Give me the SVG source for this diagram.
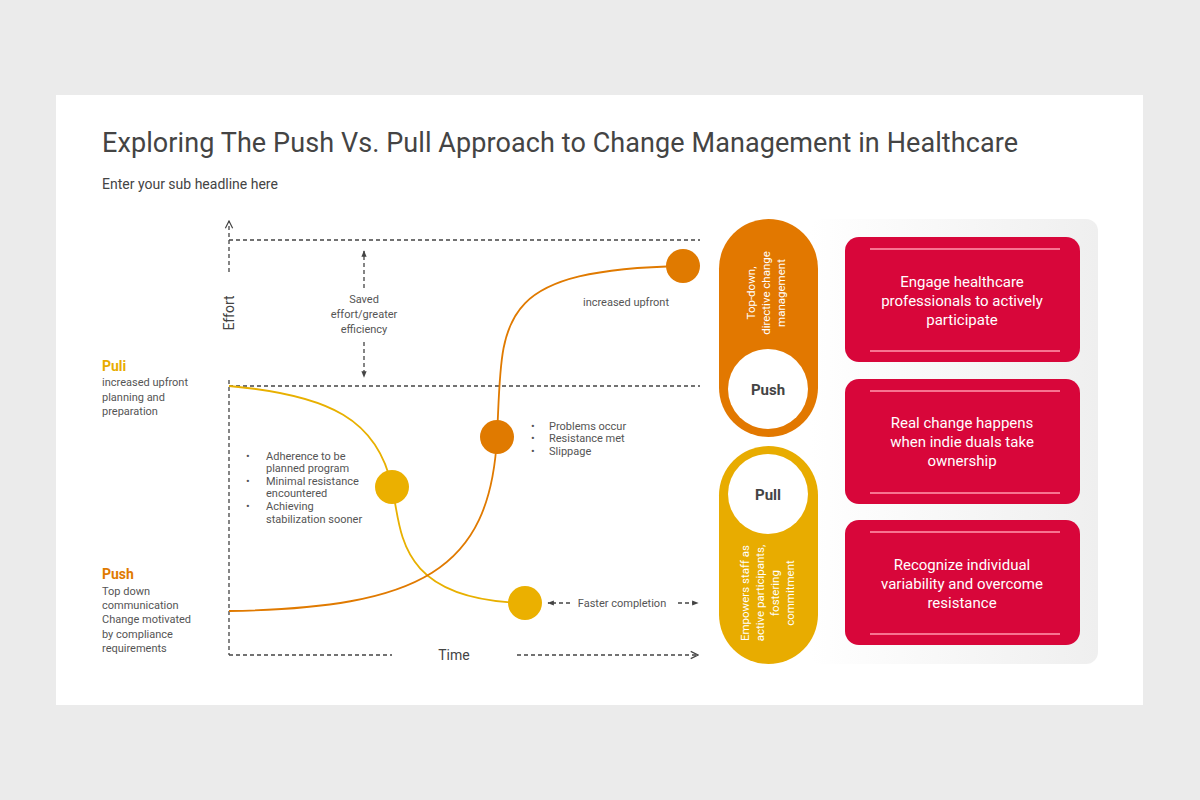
<svg xmlns="http://www.w3.org/2000/svg" width="1200" height="800" viewBox="0 0 1200 800">
<defs>
<style>
text{font-family:Roboto,"Liberation Sans",sans-serif}
.t{fill:#555;font-size:11px}
.dash{stroke:#444;stroke-width:1.3;stroke-dasharray:4 3;fill:none}
.box{fill:#d8063a}
.bt{fill:#fff;font-size:15px;text-anchor:middle}
.gl{stroke:#ff8fa6;stroke-width:2;opacity:.8}
.pt{fill:#fff;font-size:11.5px;text-anchor:middle}
</style>
<linearGradient id="pg" x1="0" y1="0" x2="1" y2="0"><stop offset="0" stop-color="#fff"/><stop offset="1" stop-color="#efefef"/></linearGradient>
<marker id="ah" viewBox="0 0 10 10" refX="9" refY="5" markerWidth="7" markerHeight="7" orient="auto-start-reverse"><path d="M1,1 L9,5 L1,9" fill="none" stroke="#444" stroke-width="1.3"/></marker>
<marker id="sm" viewBox="0 0 10 10" refX="9" refY="5" markerWidth="5" markerHeight="5" orient="auto-start-reverse"><path d="M0,1 L10,5 L0,9z" fill="#444"/></marker>
</defs>
<rect width="1200" height="800" fill="#ebebeb"/>
<rect x="56" y="95" width="1087" height="610" fill="#fff"/>
<text x="102" y="152" font-size="27" fill="#444" textLength="916">Exploring The Push Vs. Pull Approach to Change Management in Healthcare</text>
<text x="102" y="189" font-size="14" fill="#444">Enter your sub headline here</text>

<g id="left-labels">
<text x="102" y="371" font-size="14" font-weight="bold" fill="#e8ac00">Puli</text>
<text class="t" font-size="12"><tspan x="102" y="386">increased upfront</tspan><tspan x="102" y="401">planning and</tspan><tspan x="102" y="415">preparation</tspan></text>
<text x="102" y="579" font-size="14" font-weight="bold" fill="#e07a00">Push</text>
<text class="t" font-size="12"><tspan x="102" y="595">Top down</tspan><tspan x="102" y="609">communication</tspan><tspan x="102" y="623">Change motivated</tspan><tspan x="102" y="638">by compliance</tspan><tspan x="102" y="652">requirements</tspan></text>
</g>

<g id="connectors">
<line class="dash" x1="229" y1="272" x2="229" y2="221" marker-end="url(#ah)"/>
<line class="dash" x1="229" y1="380" x2="229" y2="655"/>
<line class="dash" x1="229" y1="240" x2="700" y2="240"/>
<line class="dash" x1="229" y1="386" x2="700" y2="386"/>
<line class="dash" x1="229" y1="655" x2="392" y2="655"/>
<line class="dash" x1="517" y1="655" x2="698" y2="655" marker-end="url(#ah)"/>
<line class="dash" x1="364" y1="288" x2="364" y2="251" marker-end="url(#sm)"/>
<line class="dash" x1="364" y1="342" x2="364" y2="377" marker-end="url(#sm)"/>
<line class="dash" x1="570" y1="603" x2="548" y2="603" marker-end="url(#sm)"/>
<line class="dash" x1="678" y1="603" x2="698" y2="603" marker-end="url(#sm)"/>
<path d="M229,386 C330,395 378,420 392,487 C402,530 395,600 525,603" fill="none" stroke="#e8b000" stroke-width="1.8"/>
<path d="M229,611 C420,608 490,570 497,437 C503,320 490,270 683,266" fill="none" stroke="#e07a00" stroke-width="1.8"/>
</g>

<g id="chart-labels">
<text transform="translate(234,313) rotate(-90)" font-size="14" fill="#444" text-anchor="middle">Effort</text>
<text x="454" y="660" font-size="14" fill="#444" text-anchor="middle">Time</text>
<text class="t" text-anchor="middle"><tspan x="364" y="303">Saved</tspan><tspan x="364" y="318">effort/greater</tspan><tspan x="364" y="333">efficiency</tspan></text>
<text class="t" x="626" y="306" text-anchor="middle">increased upfront</text>
<text class="t" x="622" y="607" text-anchor="middle">Faster completion</text>
<text class="t"><tspan x="246" y="460">•</tspan><tspan x="266" y="460">Adherence to be</tspan><tspan x="266" y="472">planned program</tspan><tspan x="246" y="485">•</tspan><tspan x="266" y="485">Minimal resistance</tspan><tspan x="266" y="497">encountered</tspan><tspan x="246" y="510">•</tspan><tspan x="266" y="510">Achieving</tspan><tspan x="266" y="523">stabilization sooner</tspan></text>
<text class="t"><tspan x="531" y="430">•</tspan><tspan x="549" y="430">Problems occur</tspan><tspan x="531" y="442">•</tspan><tspan x="549" y="442">Resistance met</tspan><tspan x="531" y="455">•</tspan><tspan x="549" y="455">Slippage</tspan></text>
</g>

<g id="dots">
<circle cx="392" cy="487" r="17" fill="#ebb000"/>
<circle cx="525" cy="603" r="17" fill="#ebb000"/>
<circle cx="497" cy="437" r="17" fill="#e07a00"/>
<circle cx="683" cy="266" r="17" fill="#e07a00"/>
</g>

<rect x="810" y="219" width="288" height="445" rx="12" fill="url(#pg)"/>

<g id="push-pill">
<rect x="719" y="219" width="99" height="218" rx="49.5" fill="#e27800"/>
<text class="pt" transform="translate(770,293) rotate(-90)"><tspan x="0" y="-15">Top-down,</tspan><tspan x="0" y="0">directive change</tspan><tspan x="0" y="15">management</tspan></text>
<circle cx="768" cy="389" r="40" fill="#fff"/>
<text x="768" y="395" font-size="15" font-weight="bold" fill="#444" text-anchor="middle">Push</text>
</g>
<g id="pull-pill">
<rect x="719" y="446" width="99" height="218" rx="49.5" fill="#e8ac00"/>
<circle cx="768" cy="494" r="40" fill="#fff"/>
<text x="768" y="500" font-size="15" font-weight="bold" fill="#444" text-anchor="middle">Pull</text>
<text class="pt" transform="translate(770,593) rotate(-90)"><tspan x="0" y="-21">Empowers staff as</tspan><tspan x="0" y="-6">active participants,</tspan><tspan x="0" y="9">fostering</tspan><tspan x="0" y="24">commitment</tspan></text>
</g>

<g id="box1"><rect class="box" x="845" y="237" width="235" height="125" rx="14"/><line class="gl" x1="870" y1="249" x2="1060" y2="249"/><line class="gl" x1="870" y1="351" x2="1060" y2="351"/>
<text class="bt"><tspan x="962" y="287">Engage healthcare</tspan><tspan x="962" y="306">professionals to actively</tspan><tspan x="962" y="325">participate</tspan></text></g>
<g id="box2"><rect class="box" x="845" y="379" width="235" height="125" rx="14"/><line class="gl" x1="870" y1="391" x2="1060" y2="391"/><line class="gl" x1="870" y1="493" x2="1060" y2="493"/>
<text class="bt"><tspan x="962" y="428">Real change happens</tspan><tspan x="962" y="447">when indie duals take</tspan><tspan x="962" y="466">ownership</tspan></text></g>
<g id="box3"><rect class="box" x="845" y="520" width="235" height="125" rx="14"/><line class="gl" x1="870" y1="532" x2="1060" y2="532"/><line class="gl" x1="870" y1="634" x2="1060" y2="634"/>
<text class="bt"><tspan x="962" y="570">Recognize individual</tspan><tspan x="962" y="589">variability and overcome</tspan><tspan x="962" y="608">resistance</tspan></text></g>
</svg>
